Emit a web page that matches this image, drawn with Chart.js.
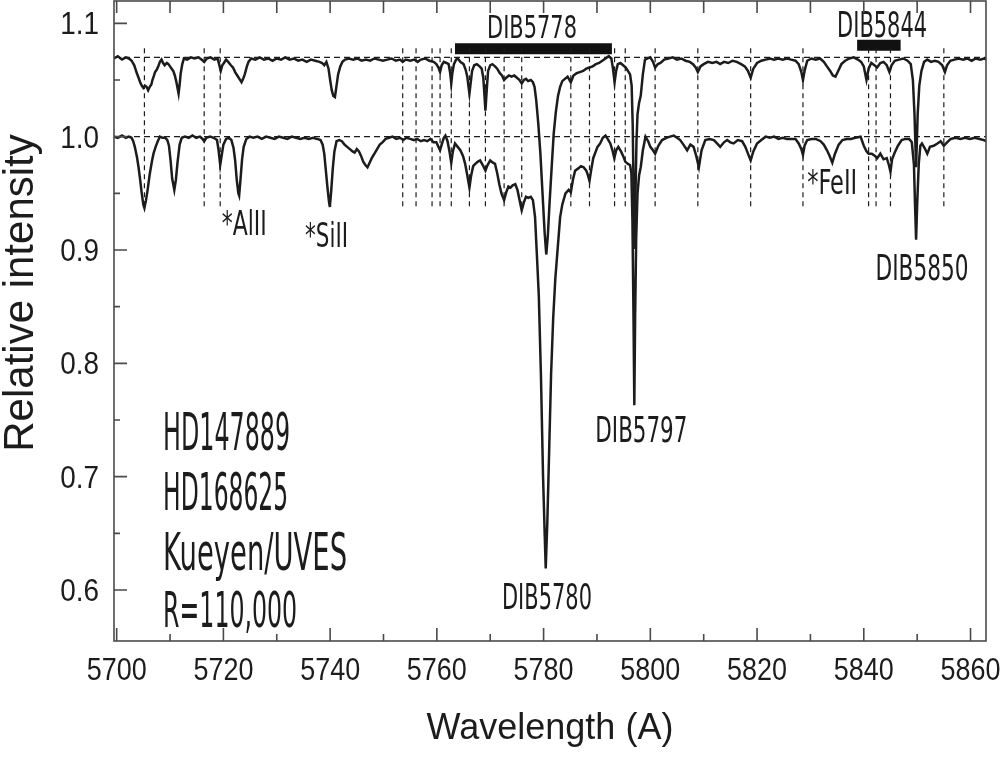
<!DOCTYPE html>
<html>
<head>
<meta charset="utf-8">
<title>DIB spectra</title>
<script src="https://cdn.jsdelivr.net/npm/chart.js@4.4.1/dist/chart.umd.min.js"></script>
<style>
  html, body { margin: 0; padding: 0; background: #fff; }
  #wrap { width: 1000px; height: 759px; }
</style>
</head>
<body>
<div id="wrap"><canvas id="myChart" width="1000" height="759"></canvas></div>
<script>
'use strict';
//////////////// data (wavelength, relative intensity)

// upper spectrum (shifted up by 0.07)
const topSpectrum = [
  [5699.5,1.069],[5700.2,1.071],[5701.0,1.068],[5701.7,1.070],[5702.3,1.069],[5702.8,1.067],[5703.3,1.063],[5703.7,1.057],
  [5704.1,1.052],[5704.4,1.048],[5704.7,1.045],[5705.0,1.043],[5705.3,1.045],[5705.6,1.044],[5705.9,1.041],[5706.2,1.044],
  [5706.5,1.046],[5706.7,1.050],[5707.0,1.054],[5707.2,1.057],[5707.5,1.059],[5707.8,1.062],[5708.1,1.066],[5708.4,1.068],
  [5708.7,1.065],[5709.0,1.063],[5709.4,1.065],[5709.7,1.064],[5710.0,1.062],[5710.3,1.060],[5710.6,1.058],[5710.9,1.054],
  [5711.2,1.048],[5711.6,1.038],[5711.8,1.046],[5712.0,1.056],[5712.3,1.064],[5712.6,1.069],[5713.2,1.068],[5713.9,1.070],
  [5714.6,1.069],[5715.3,1.070],[5715.9,1.068],[5716.4,1.066],[5716.9,1.069],[5717.6,1.070],[5718.3,1.068],[5718.9,1.069],
  [5719.2,1.064],[5719.5,1.058],[5719.8,1.063],[5720.1,1.065],[5720.5,1.068],[5720.9,1.066],[5721.4,1.063],[5721.8,1.061],
  [5722.2,1.057],[5722.6,1.054],[5723.0,1.051],[5723.4,1.048],[5723.7,1.051],[5724.0,1.055],[5724.4,1.062],[5724.7,1.066],
  [5725.2,1.069],[5726.0,1.068],[5726.8,1.070],[5727.6,1.068],[5728.4,1.069],[5729.2,1.067],[5730.0,1.069],[5730.8,1.068],
  [5731.6,1.070],[5732.4,1.068],[5733.2,1.069],[5734.0,1.067],[5734.8,1.068],[5735.6,1.066],[5736.4,1.068],[5737.2,1.067],
  [5738.0,1.066],[5738.5,1.065],[5738.9,1.063],[5739.3,1.066],[5739.7,1.060],[5740.0,1.050],[5740.3,1.041],[5740.6,1.036],
  [5740.9,1.035],[5741.2,1.045],[5741.5,1.055],[5741.9,1.062],[5742.3,1.066],[5742.8,1.068],[5743.5,1.069],[5744.3,1.068],
  [5745.1,1.069],[5745.9,1.067],[5746.7,1.068],[5747.5,1.067],[5748.3,1.069],[5749.1,1.068],[5749.9,1.067],[5750.7,1.068],
  [5751.5,1.069],[5752.3,1.067],[5753.1,1.068],[5753.6,1.066],[5754.2,1.068],[5755.0,1.067],[5755.8,1.068],[5756.4,1.066],
  [5757.0,1.068],[5757.8,1.069],[5758.6,1.067],[5759.4,1.066],[5759.9,1.064],[5760.3,1.061],[5760.6,1.057],[5760.9,1.063],
  [5761.3,1.066],[5761.8,1.065],[5762.2,1.064],[5762.5,1.056],[5762.7,1.047],[5762.9,1.056],[5763.2,1.064],[5763.6,1.068],
  [5763.9,1.069],[5764.4,1.066],[5765.0,1.064],[5765.4,1.059],[5765.7,1.053],[5765.9,1.045],[5766.1,1.038],[5766.3,1.046],
  [5766.6,1.058],[5767.0,1.063],[5767.5,1.064],[5768.0,1.062],[5768.4,1.060],[5768.7,1.052],[5768.9,1.038],[5769.1,1.023],
  [5769.3,1.038],[5769.6,1.058],[5770.0,1.063],[5770.4,1.064],[5770.9,1.062],[5771.3,1.060],[5771.8,1.056],[5772.2,1.054],
  [5772.6,1.050],[5773.0,1.052],[5773.5,1.054],[5774.0,1.053],[5774.5,1.054],[5775.0,1.052],[5775.5,1.050],[5775.9,1.047],
  [5776.3,1.050],[5776.7,1.051],[5777.1,1.049],[5777.6,1.050],[5778.0,1.048],[5778.3,1.044],[5778.6,1.033],[5779.0,1.012],
  [5779.4,0.985],[5779.8,0.950],[5780.2,0.915],[5780.5,0.896],[5780.8,0.913],[5781.1,0.940],[5781.5,0.972],[5781.9,1.003],
  [5782.3,1.022],[5782.7,1.036],[5783.1,1.044],[5783.5,1.049],[5784.0,1.051],[5784.5,1.053],[5785.1,1.048],[5785.6,1.054],
  [5786.2,1.056],[5786.8,1.057],[5787.4,1.058],[5788.0,1.060],[5788.6,1.061],[5789.2,1.062],[5789.8,1.064],[5790.4,1.065],
  [5791.0,1.067],[5791.6,1.069],[5792.2,1.071],[5792.7,1.069],[5793.0,1.060],[5793.3,1.048],[5793.6,1.058],[5793.9,1.064],
  [5794.4,1.065],[5794.9,1.063],[5795.4,1.061],[5795.8,1.058],[5796.2,1.055],[5796.5,1.045],[5796.7,1.010],[5796.9,0.940],
  [5797.05,0.901],[5797.2,0.945],[5797.4,0.995],[5797.6,1.020],[5797.9,1.030],[5798.2,1.036],[5798.6,1.055],[5799.0,1.068],
  [5799.5,1.069],[5800.0,1.070],[5800.5,1.066],[5800.9,1.061],[5801.4,1.064],[5801.9,1.065],[5802.6,1.068],[5803.4,1.069],
  [5804.2,1.070],[5805.0,1.068],[5805.8,1.069],[5806.6,1.067],[5807.4,1.066],[5808.0,1.064],[5808.5,1.061],[5808.9,1.057],
  [5809.4,1.062],[5810.0,1.064],[5810.8,1.066],[5811.6,1.065],[5812.4,1.066],[5813.1,1.064],[5813.8,1.066],[5814.6,1.065],
  [5815.4,1.067],[5816.2,1.066],[5817.0,1.064],[5817.7,1.062],[5818.3,1.058],[5818.8,1.052],[5819.3,1.060],[5820.0,1.065],
  [5820.8,1.067],[5821.6,1.068],[5822.4,1.069],[5823.2,1.068],[5824.0,1.069],[5824.8,1.068],[5825.6,1.069],[5826.4,1.068],
  [5827.2,1.067],[5827.8,1.064],[5828.3,1.057],[5828.6,1.050],[5828.9,1.058],[5829.4,1.067],[5830.2,1.069],[5831.0,1.068],
  [5831.8,1.069],[5832.5,1.066],[5833.1,1.062],[5833.7,1.058],[5834.2,1.054],[5834.7,1.053],[5835.2,1.058],[5835.8,1.064],
  [5836.5,1.067],[5837.3,1.069],[5838.1,1.070],[5838.9,1.068],[5839.5,1.066],[5840.0,1.062],[5840.5,1.050],[5840.9,1.060],
  [5841.4,1.065],[5842.0,1.063],[5842.5,1.061],[5843.1,1.065],[5843.7,1.066],[5844.3,1.063],[5844.8,1.057],[5845.2,1.063],
  [5845.8,1.067],[5846.6,1.068],[5847.4,1.069],[5848.2,1.067],[5848.8,1.064],[5849.2,1.050],[5849.5,1.020],[5849.8,0.973],
  [5850.1,1.020],[5850.4,1.045],[5850.8,1.058],[5851.3,1.066],[5851.9,1.068],[5852.6,1.066],[5853.3,1.067],[5854.0,1.066],
  [5854.7,1.063],[5855.2,1.057],[5855.6,1.063],[5856.2,1.067],[5857.0,1.068],[5857.8,1.069],[5858.6,1.068],[5859.4,1.069],
  [5860.2,1.067],[5861.0,1.069],[5861.8,1.068],[5862.6,1.069],[5862.9,1.068]
];

// lower spectrum (continuum at 1.0)
const bottomSpectrum = [
  [5699.5,1.000],[5700.2,0.999],[5701.0,1.001],[5701.7,0.999],[5702.3,1.000],[5702.8,0.999],[5703.1,0.996],[5703.4,0.991],
  [5703.8,0.982],[5704.1,0.973],[5704.4,0.962],[5704.7,0.950],[5705.0,0.940],[5705.2,0.937],[5705.5,0.944],[5705.8,0.953],
  [5706.2,0.967],[5706.6,0.978],[5706.9,0.985],[5707.3,0.991],[5707.7,0.996],[5708.1,1.000],[5708.6,0.999],[5709.1,0.999],
  [5709.5,0.997],[5709.8,0.992],[5710.1,0.979],[5710.4,0.963],[5710.8,0.953],[5711.1,0.962],[5711.4,0.977],[5711.8,0.993],
  [5712.2,0.999],[5712.8,1.000],[5713.5,0.999],[5714.2,1.001],[5714.9,0.999],[5715.6,1.000],[5716.1,0.998],[5716.4,0.996],
  [5716.8,0.999],[5717.5,1.000],[5718.2,0.999],[5718.8,0.997],[5719.1,0.988],[5719.4,0.975],[5719.7,0.984],[5720.0,0.993],
  [5720.5,0.998],[5721.0,0.999],[5721.5,0.997],[5721.9,0.990],[5722.2,0.979],[5722.5,0.962],[5722.8,0.950],[5722.95,0.948],
  [5723.2,0.962],[5723.5,0.980],[5723.8,0.991],[5724.3,0.998],[5724.9,1.000],[5725.6,0.999],[5726.4,1.000],[5727.2,0.998],
  [5728.0,1.000],[5728.8,0.999],[5729.6,0.998],[5730.4,1.000],[5731.2,0.999],[5732.0,0.998],[5732.8,1.000],[5733.6,0.999],
  [5734.4,0.998],[5735.2,0.999],[5736.0,0.998],[5736.8,0.999],[5737.6,0.998],[5738.2,0.997],[5738.6,0.993],[5738.9,0.985],
  [5739.2,0.970],[5739.5,0.955],[5739.8,0.942],[5739.95,0.938],[5740.2,0.952],[5740.5,0.972],[5740.8,0.987],[5741.2,0.996],
  [5741.7,0.997],[5742.2,0.996],[5742.7,0.993],[5743.2,0.991],[5743.7,0.989],[5744.2,0.987],[5744.6,0.986],[5745.0,0.989],
  [5745.4,0.987],[5745.8,0.983],[5746.2,0.978],[5746.6,0.975],[5747.0,0.973],[5747.4,0.977],[5747.8,0.981],[5748.3,0.985],
  [5748.8,0.989],[5749.3,0.993],[5749.8,0.995],[5750.4,0.998],[5751.0,0.999],[5751.7,1.000],[5752.4,0.998],[5753.1,0.999],
  [5753.7,0.997],[5754.3,0.999],[5755.0,0.998],[5755.7,0.997],[5756.3,0.998],[5757.0,0.996],[5757.6,0.997],[5758.2,0.996],
  [5758.8,0.998],[5759.4,0.995],[5759.9,0.995],[5760.3,0.991],[5760.6,0.988],[5760.9,0.993],[5761.3,0.999],[5761.6,1.001],
  [5762.0,0.996],[5762.4,0.986],[5762.7,0.977],[5763.0,0.987],[5763.4,0.994],[5763.9,0.991],[5764.4,0.988],[5764.9,0.983],
  [5765.3,0.976],[5765.7,0.966],[5766.1,0.955],[5766.4,0.965],[5766.8,0.974],[5767.2,0.976],[5767.7,0.978],[5768.1,0.979],
  [5768.6,0.975],[5769.1,0.970],[5769.5,0.975],[5770.0,0.979],[5770.5,0.977],[5770.9,0.976],[5771.3,0.968],[5771.7,0.958],
  [5772.1,0.950],[5772.6,0.944],[5773.0,0.951],[5773.4,0.956],[5773.8,0.955],[5774.2,0.957],[5774.7,0.958],[5775.1,0.953],
  [5775.5,0.944],[5775.9,0.935],[5776.3,0.942],[5776.7,0.947],[5777.1,0.946],[5777.6,0.947],[5778.0,0.944],[5778.4,0.929],
  [5778.75,0.895],[5779.1,0.860],[5779.5,0.790],[5779.9,0.700],[5780.2,0.650],[5780.4,0.619],[5780.7,0.660],[5781.0,0.715],
  [5781.4,0.790],[5781.8,0.840],[5782.2,0.875],[5782.7,0.905],[5783.1,0.929],[5783.5,0.940],[5784.1,0.950],[5784.7,0.953],
  [5785.1,0.951],[5785.5,0.962],[5785.9,0.970],[5786.5,0.972],[5787.0,0.974],[5787.5,0.973],[5788.0,0.970],[5788.3,0.966],
  [5788.6,0.961],[5788.9,0.970],[5789.3,0.981],[5789.7,0.986],[5790.1,0.991],[5790.6,0.994],[5791.1,0.999],[5791.6,1.001],
  [5792.0,0.998],[5792.5,0.994],[5792.9,0.988],[5793.25,0.981],[5793.6,0.988],[5794.0,0.991],[5794.5,0.987],[5794.9,0.983],
  [5795.3,0.978],[5795.8,0.976],[5796.2,0.975],[5796.45,0.968],[5796.65,0.925],[5796.85,0.840],[5797.0,0.763],[5797.15,0.840],
  [5797.35,0.910],[5797.6,0.950],[5797.9,0.966],[5798.2,0.973],[5798.6,0.988],[5799.1,1.000],[5799.6,0.996],[5800.0,0.991],
  [5800.5,0.988],[5800.9,0.985],[5801.5,0.992],[5802.2,0.997],[5803.0,0.999],[5803.7,1.000],[5804.4,1.001],[5805.0,0.999],
  [5805.6,0.997],[5806.2,0.993],[5806.9,0.988],[5807.5,0.993],[5808.1,0.991],[5808.6,0.983],[5809.1,0.973],[5809.6,0.988],
  [5810.3,0.997],[5811.1,0.998],[5811.9,0.997],[5812.5,0.994],[5813.1,0.991],[5813.8,0.995],[5814.4,0.997],[5815.0,0.995],
  [5815.6,0.994],[5816.4,0.997],[5817.2,0.996],[5817.8,0.991],[5818.3,0.985],[5818.8,0.979],[5819.3,0.987],[5820.0,0.994],
  [5820.8,0.997],[5821.6,1.000],[5822.4,0.999],[5823.2,1.000],[5824.0,0.998],[5824.8,0.999],[5825.6,0.998],[5826.4,0.998],
  [5827.2,0.998],[5827.8,0.994],[5828.3,0.989],[5828.6,0.984],[5828.9,0.992],[5829.4,0.997],[5830.2,0.998],[5831.0,0.998],
  [5831.9,0.996],[5832.5,0.993],[5833.1,0.988],[5833.6,0.983],[5834.1,0.977],[5834.6,0.985],[5835.3,0.993],[5836.0,0.997],
  [5836.8,0.998],[5837.6,0.998],[5838.4,0.999],[5839.4,1.000],[5840.0,0.992],[5840.5,0.987],[5840.9,0.985],[5841.5,0.985],
  [5842.1,0.983],[5842.5,0.981],[5843.1,0.985],[5843.7,0.980],[5844.3,0.981],[5844.7,0.975],[5845.0,0.969],[5845.3,0.980],
  [5845.8,0.986],[5846.4,0.992],[5847.1,0.997],[5847.8,0.998],[5848.5,0.998],[5849.0,0.995],[5849.4,0.975],[5849.6,0.940],
  [5849.8,0.909],[5850.0,0.940],[5850.3,0.976],[5850.6,0.992],[5850.9,0.994],[5851.4,0.990],[5851.9,0.985],[5852.4,0.991],
  [5853.1,0.992],[5853.8,0.994],[5854.4,0.996],[5855.0,0.992],[5855.6,0.995],[5856.3,0.998],[5857.2,0.999],[5858.1,0.998],
  [5859.0,0.999],[5859.9,0.998],[5860.8,0.999],[5861.7,0.998],[5862.5,0.997],[5862.9,0.996]
];

// wavelengths of the dashed line markers
const markWaves = [5705.2, 5716.4, 5719.4, 5753.6, 5756.1, 5759.1, 5760.6, 5762.7, 5766.1, 5769.1, 5772.6, 5775.9,
  5785.1, 5788.6, 5793.3, 5795.3, 5800.9, 5808.9, 5818.8, 5828.6, 5840.9, 5842.3, 5845.0, 5855.0];
const markTop = 1.078;
const markBottom = 0.935;

// continuum levels of both spectra
const refLevels = [1.0, 1.07];

// DIB band extents (black bars)
const bandFrom = [5763.4, 5838.75];
const bandTo = [5792.8, 5846.9];
const bandLevel = [1.0775, 1.0806];

// axis range
const xMin = 5699.5;
const xMax = 5862.9;
const yMin = 0.555;
const yMax = 1.1197;

////////////////////// text notes, anchored in data coordinates (left, baseline)
const notes = [
  {text: 'DIB5778', x: 5769.4, y: 1.0868, size: 32, w: 90},
  {text: 'DIB5844', x: 5835.0, y: 1.0879, size: 35, w: 90},
  {text: '*AlII', x: 5719.7, y: 0.9129, size: 33, w: 45},
  {text: '*SiII', x: 5735.3, y: 0.9023, size: 33, w: 43},
  {text: '*FeII', x: 5829.4, y: 0.9497, size: 33, w: 50},
  {text: 'DIB5850', x: 5842.2, y: 0.8732, size: 35, w: 93},
  {text: 'DIB5797', x: 5789.7, y: 0.7302, size: 35, w: 92},
  {text: 'DIB5780', x: 5772.2, y: 0.5836, size: 35, w: 90},
  {text: 'HD147889', x: 5708.7, y: 0.7231, size: 51, w: 127},
  {text: 'HD168625', x: 5708.7, y: 0.6702, size: 51, w: 125},
  {text: 'Kueyen/UVES', x: 5708.7, y: 0.6173, size: 51, w: 184},
  {text: 'R=110,000', x: 5708.7, y: 0.5672, size: 50, w: 134}
];

const yTitle = 'Relative intensity';

const INK = '#1c1c1c';
const AXIS = '#4a4a4a';
const SANS = '"Liberation Sans", Arial, sans-serif';

function toPoints(list) {
  return list.map(p => ({x: p[0], y: p[1]}));
}

function xLabel(v) {
  return Math.round(v) % 20 === 0 ? String(Math.round(v)) : '';
}

function yLabel(v) {
  return Math.round(v * 100) % 10 === 0 ? v.toFixed(1) : '';
}

let markData = [];
markWaves.forEach(w => {
  markData.push({x: w, y: markTop}, {x: w, y: markBottom}, {x: w, y: null});
});

let refData = [];
refLevels.forEach(l => {
  refData.push({x: xMin, y: l}, {x: xMax, y: l}, {x: xMax, y: null});
});

let bandData = [];
for (let i = 0; i < bandFrom.length; i++) {
  bandData.push({x: bandFrom[i], y: bandLevel[i]}, {x: bandTo[i], y: bandLevel[i]}, {x: bandTo[i], y: null});
}

/////////////////////////// plugins

// frame round the plot, inward ticks and narrow tick labels
const frameTicks = {
  id: 'frameTicks',
  afterDraw(chart) {
    const {ctx, chartArea: a, scales} = chart;
    ctx.save();
    ctx.strokeStyle = AXIS;
    ctx.lineWidth = 1.6;
    ctx.strokeRect(a.left, a.top, a.right - a.left, a.bottom - a.top);
    ctx.beginPath();
    scales.x.ticks.forEach(t => {
      let px = scales.x.getPixelForValue(t.value);
      let len = xLabel(t.value) !== '' ? 13 : 7;
      ctx.moveTo(px, a.bottom);
      ctx.lineTo(px, a.bottom - len);
      ctx.moveTo(px, a.top);
      ctx.lineTo(px, a.top + 12);
    });
    scales.y.ticks.forEach(t => {
      let py = scales.y.getPixelForValue(t.value);
      let len = yLabel(t.value) !== '' ? 13 : 6;
      ctx.moveTo(a.left, py);
      ctx.lineTo(a.left + len, py);
    });
    ctx.stroke();

    // tick labels, slightly condensed like the original
    ctx.fillStyle = INK;
    ctx.font = '31px ' + SANS;
    ctx.textBaseline = 'alphabetic';
    scales.x.ticks.forEach(t => {
      let s = xLabel(t.value);
      if (s === '') return;
      ctx.save();
      ctx.translate(scales.x.getPixelForValue(t.value), a.bottom + 39);
      ctx.scale(0.87, 1);
      ctx.textAlign = 'center';
      ctx.fillText(s, 0, 0);
      ctx.restore();
    });
    scales.y.ticks.forEach(t => {
      let s = yLabel(t.value);
      if (s === '') return;
      ctx.save();
      ctx.translate(a.left - 15, scales.y.getPixelForValue(t.value) + 11);
      ctx.scale(0.9, 1);
      ctx.textAlign = 'right';
      ctx.fillText(s, 0, 0);
      ctx.restore();
    });

    // y axis title, sits a bit above the middle of the plot like the original
    ctx.save();
    ctx.font = '42px ' + SANS;
    ctx.textAlign = 'center';
    ctx.textBaseline = 'middle';
    ctx.translate(21, 293);
    ctx.rotate(-Math.PI / 2);
    ctx.fillText(yTitle, 0, 0);
    ctx.restore();

    ctx.restore();
  }
};

// condensed text notes
const noteText = {
  id: 'noteText',
  afterDatasetsDraw(chart) {
    const {ctx, scales} = chart;
    ctx.save();
    ctx.fillStyle = INK;
    ctx.textAlign = 'left';
    ctx.textBaseline = 'alphabetic';
    notes.forEach(n => {
      ctx.font = n.size + 'px "Liberation Sans Narrow", "DejaVu Sans Condensed", sans-serif';
      let mw = ctx.measureText(n.text).width;
      ctx.save();
      ctx.translate(scales.x.getPixelForValue(n.x), scales.y.getPixelForValue(n.y));
      ctx.scale(n.w / mw, 1);
      ctx.fillText(n.text, 0, 0);
      ctx.restore();
    });
    ctx.restore();
  }
};

///////////////////// chart
let ctx = document.getElementById('myChart').getContext('2d');
let myChart = new Chart(ctx, {
  type: 'scatter',
  data: {
    datasets: [
      {
        data: markData,
        showLine: true,
        spanGaps: false,
        borderColor: INK,
        borderWidth: 1.2,
        borderDash: [5, 4],
        pointRadius: 0
      },
      {
        data: refData,
        showLine: true,
        spanGaps: false,
        borderColor: INK,
        borderWidth: 1.2,
        borderDash: [6, 4],
        pointRadius: 0
      },
      {
        data: toPoints(bottomSpectrum),
        showLine: true,
        borderColor: INK,
        borderWidth: 2.5,
        pointRadius: 0,
        tension: 0
      },
      {
        data: toPoints(topSpectrum),
        showLine: true,
        borderColor: INK,
        borderWidth: 2.5,
        pointRadius: 0,
        tension: 0
      },
      {
        data: bandData,
        showLine: true,
        spanGaps: false,
        borderColor: '#111',
        borderWidth: 11,
        borderCapStyle: 'butt',
        pointRadius: 0
      }
    ]
  },
  options: {
    responsive: false,
    devicePixelRatio: 1,
    animation: false,
    layout: {padding: {top: 1, right: 14, left: 0, bottom: 0}},
    plugins: {
      legend: {display: false},
      tooltip: {enabled: false}
    },
    scales: {
      x: {
        type: 'linear',
        min: xMin,
        max: xMax,
        afterFit: (s) => { s.height = 118; s.paddingLeft = 0; s.paddingRight = 0; },
        grid: {display: false, drawTicks: false},
        border: {display: false},
        ticks: {
          display: false,
          stepSize: 10,
          includeBounds: false,
          autoSkip: false
        },
        title: {
          display: true,
          text: 'Wavelength (A)',
          color: INK,
          font: {family: SANS, size: 36, lineHeight: 1.1},
          padding: {top: 0, bottom: 10}
        }
      },
      y: {
        type: 'linear',
        min: yMin,
        max: yMax,
        afterFit: (s) => { s.width = 114; s.paddingTop = 0; s.paddingBottom = 0; },
        grid: {display: false, drawTicks: false},
        border: {display: false},
        ticks: {
          display: false,
          stepSize: 0.05,
          includeBounds: false,
          autoSkip: false
        },
        title: {display: false}
      }
    }
  },
  plugins: [frameTicks, noteText]
});
</script>
</body>
</html>
